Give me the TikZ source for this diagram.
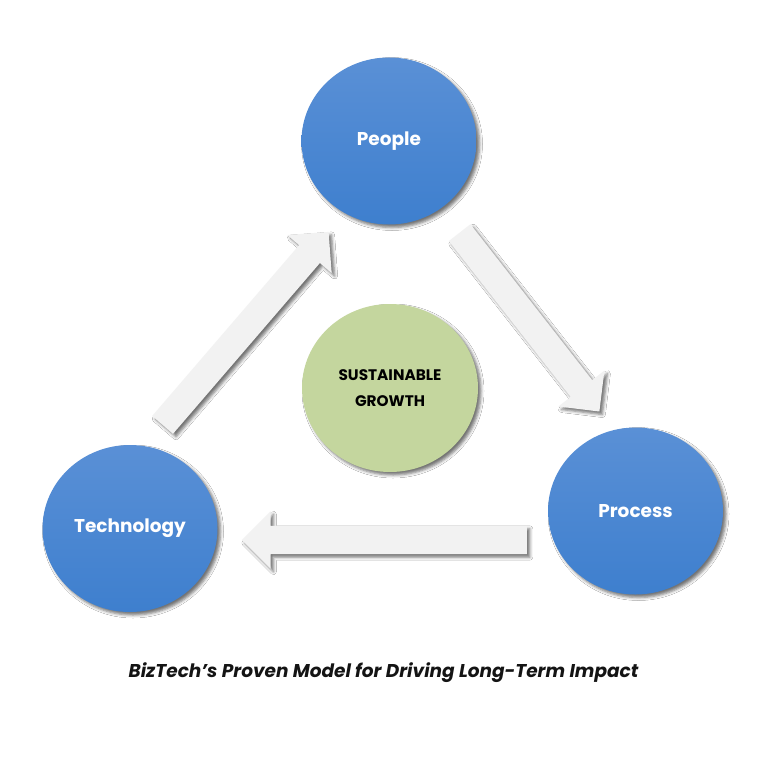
\documentclass[tikz,border=0pt]{standalone}
\usepackage{fontspec}
\setmainfont{Poppins}
\usetikzlibrary{shapes.geometric,shapes.arrows,shadows.blur}
\definecolor{bluetop}{RGB}{90,144,214}
\definecolor{bluebot}{RGB}{62,127,206}
\definecolor{greenfill}{RGB}{196,214,158}
\definecolor{arrowfill}{RGB}{242,242,242}
\definecolor{captext}{RGB}{20,20,20}
\tikzset{
  softshadow/.style={blur shadow={shadow xshift=3pt,shadow yshift=-3pt,shadow blur radius=3pt,shadow opacity=55}},
  bluecirc/.style={ellipse, minimum width=175pt, minimum height=167pt, inner sep=0pt,
    top color=bluetop, bottom color=bluebot, softshadow,
    text=white, font=\fontsize{18.5}{22}\selectfont\bfseries},
  greencirc/.style={ellipse, minimum width=176pt, minimum height=168pt, inner sep=0pt,
    fill=greenfill, softshadow, text=black, align=center,
    font=\fontsize{15.3}{26}\selectfont\bfseries},
  blockarrow/.style={single arrow, fill=arrowfill, draw=none, inner xsep=0pt, inner ysep=13.5pt,
    single arrow head extend=15.5pt, single arrow tip angle=90, anchor=tail,
    softshadow},
}
\begin{document}
\begin{tikzpicture}[x=1pt,y=-1pt]
\useasboundingbox[fill=white] (0,0) rectangle (768,768);
% arrow tails
\coordinate (t1) at (162.5,425);
\coordinate (t2) at (459.5,232.5);
\coordinate (t3) at (527,540);
% arrows
\node[blockarrow, minimum height=254.5pt, rotate=49.3] (a1) at (t1) {};
\node[blockarrow, minimum height=227pt, rotate=-52] (a2) at (t2) {};
\node[blockarrow, minimum height=285pt, inner ysep=14pt, single arrow head extend=14.5pt, rotate=180] (a3) at (t3) {};
% circles
\node[bluecirc] (people) at (389,141) {People};
\node[bluecirc] (process) at (635.5,511) {Process};
\node[bluecirc] (tech) at (130,528.5) {Technology};
\node[greencirc] (growth) at (390,388) {SUSTAINABLE\\GROWTH};
% caption
\node[text=captext, font=\fontsize{18.5}{22}\selectfont\bfseries\itshape] (cap) at (383.5,673) {BizTech’s Proven Model for Driving Long-Term Impact};
\end{tikzpicture}
\end{document}
